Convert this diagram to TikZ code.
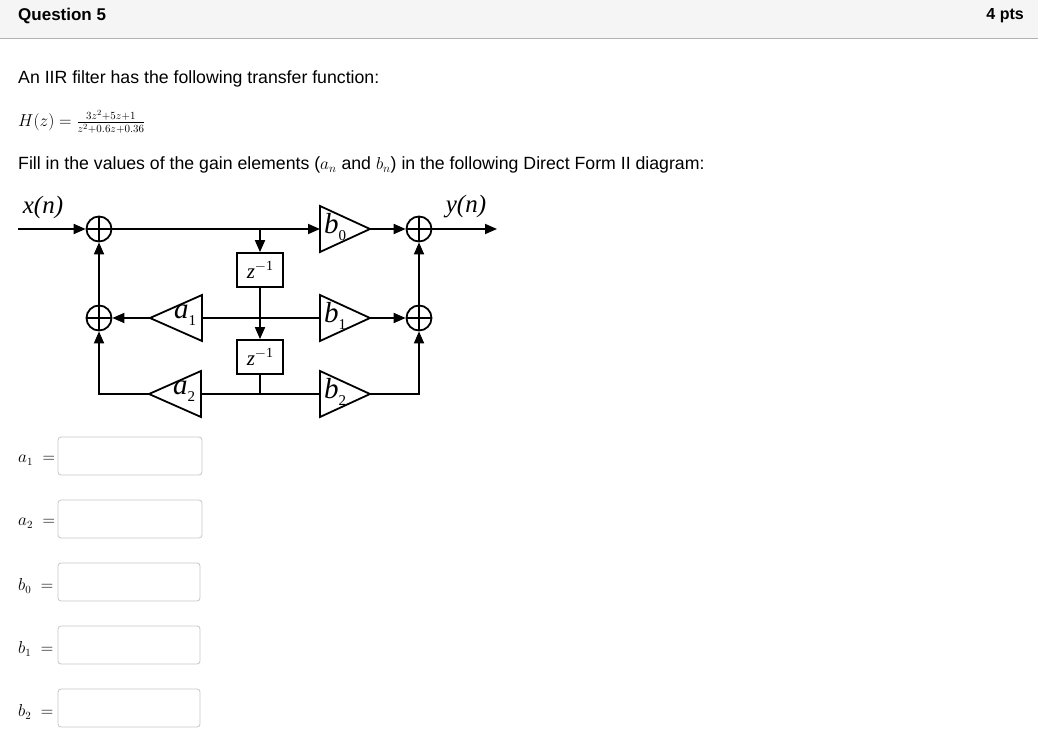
\documentclass[tikz,border=0pt]{standalone}
\usepackage{fontspec}
\setmainfont{Liberation Sans}
\newfontfamily\tms{Liberation Serif}
\usetikzlibrary{arrows.meta}
\begin{document}
\begin{tikzpicture}[x=1pt,y=-1pt,
  sumnode/.style={circle,draw,line width=1.8pt,minimum size=25pt,inner sep=0pt,path picture={\draw[line width=1.8pt] (path picture bounding box.north)--(path picture bounding box.south) (path picture bounding box.west)--(path picture bounding box.east);}},
  wire/.style={line width=1.8pt},
  arr/.style={wire,-{Triangle[length=12pt,width=10pt]}},
  delay/.style={draw,line width=1.8pt,minimum width=46pt,minimum height=34pt,inner sep=0pt,font=\tms\itshape\fontsize{21}{21}\selectfont},
  ansbox/.style={draw=gray!45,rounded corners=3pt,line width=0.8pt},
  lbl/.style={anchor=west,inner sep=0pt}]
\useasboundingbox (0,0) rectangle (1038,751);
\fill[gray!8] (0,0) rectangle (1038,38);
\draw[gray!60,line width=1pt] (0,38.5)--(1038,38.5);
\node[lbl,font=\bfseries\fontsize{17}{20}\selectfont] (q) at (18,16) {Question 5};
\node[anchor=east,inner sep=0pt,font=\bfseries\fontsize{16}{19}\selectfont] (pts) at (1024,16) {4 pts};
\node[lbl,font=\fontsize{17.7}{21}\selectfont] (t1) at (18,79) {An IIR filter has the following transfer function:};
\node[lbl,font=\fontsize{16}{19}\selectfont] (hz) at (18,122) {$H(z)=\frac{3z^2+5z+1}{z^2+0.6z+0.36}$};
\node[lbl,font=\fontsize{17.7}{21}\selectfont] (t2) at (18,165) {Fill in the values of the gain elements ($a_n$ and $b_n$) in the following Direct Form II diagram:};
% diagram
\node[sumnode] (s1) at (99,229) {};
\node[sumnode] (s2) at (99,318) {};
\node[sumnode] (s3) at (419,229) {};
\node[sumnode] (s4) at (419,318) {};
\coordinate (in) at (18,229);
\coordinate (out) at (497,229);
\node[font=\tms\itshape\fontsize{25}{25}\selectfont] (xn) at (43,207) {x(n)};
\node[font=\tms\itshape\fontsize{25}{25}\selectfont] (yn) at (466,207) {y(n)};
\coordinate (tap0) at (260,229);
\coordinate (tap1) at (260,318);
\coordinate (tap2) at (260,394);
\node[delay] (d1) at (260,270) {z\raisebox{8pt}{\fontsize{14}{14}\selectfont\upshape$-$1}};
\node[delay] (d2) at (260,357) {z\raisebox{8pt}{\fontsize{14}{14}\selectfont\upshape$-$1}};
% triangles
\newcommand\gainR[4]{\draw[wire] (#2,#3-23)--(#2+50,#3)--(#2,#3+23)--cycle; \coordinate (#1in) at (#2,#3); \coordinate (#1out) at (#2+50,#3);
  \node[font=\tms\itshape\fontsize{29}{29}\selectfont] (#1t) at (#2+15,#3-2) {b\raisebox{-7pt}{\fontsize{15}{15}\selectfont\upshape #4}};}
\newcommand\gainL[4]{\draw[wire] (#2,#3-23)--(#2-52,#3)--(#2,#3+23)--cycle; \coordinate (#1in) at (#2,#3); \coordinate (#1out) at (#2-52,#3);
  \node[font=\tms\itshape\fontsize{29}{29}\selectfont] (#1t) at (#2-17,#3-3) {a\raisebox{-7pt}{\fontsize{15}{15}\selectfont\upshape #4}};}
\gainR{b0}{320}{229}{0}
\gainR{b1}{320}{318}{1}
\gainR{b2}{320}{394}{2}
\gainL{a1}{202}{318}{1}
\gainL{a2}{201}{394}{2}
\draw[arr] (in)--(s1);
\draw[wire] (s1)--(tap0);
\draw[arr] (tap0)--(b0in);
\draw[arr] (tap0)--(d1);
\draw[arr] (b0out)--(s3);
\draw[arr] (s3)--(out);
\draw[wire] (d1)--(tap1);
\draw[arr] (tap1)--(d2);
\draw[wire] (a1in)--(b1in);
\draw[arr] (a1out)--(s2);
\draw[arr] (b1out)--(s4);
\draw[wire] (d2)--(tap2);
\draw[wire] (a2in)--(b2in);
\draw[arr] (a2out)-|(s2);
\draw[arr] (b2out)-|(s4);
\draw[arr] (s2)--(s1);
\draw[arr] (s4)--(s3);
% answers
\foreach \y/\v/\w in {437/a_1/202,500/a_2/202,563/b_0/200,626/b_1/200,689/b_2/200}{
  \draw[ansbox] (58,\y) rectangle (\w,\y+38);
  \node[lbl,font=\fontsize{16}{19}\selectfont] at (18,\y+23) {$\v\;=$};
}
\end{tikzpicture}
\end{document}
